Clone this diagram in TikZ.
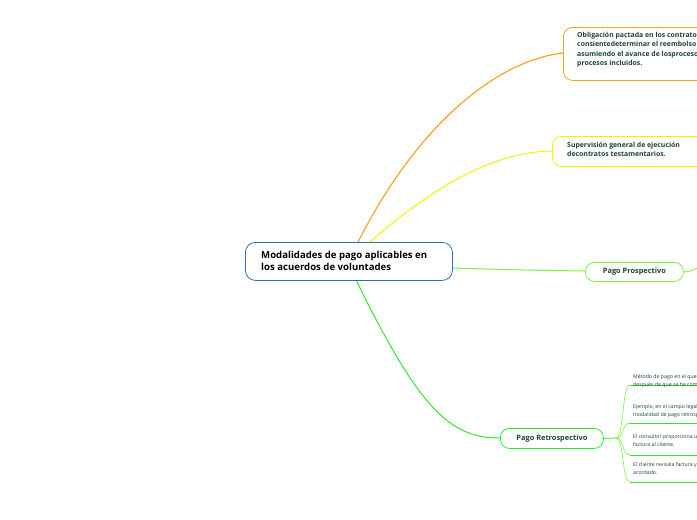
\documentclass[tikz,border=0pt]{standalone}
\usepackage{fontspec}
\setmainfont{Open Sans}
\definecolor{txt}{HTML}{1B4332}
\definecolor{org}{HTML}{F5A623}
\definecolor{yel}{HTML}{F2F200}
\definecolor{grn}{HTML}{7CF23A}
\definecolor{grn2}{HTML}{2EE62E}
\definecolor{blu}{HTML}{2A6FB5}
\tikzset{
  box/.style={draw,rounded corners=9pt,line width=0.8pt,fill=white,inner sep=0pt,anchor=north west},
  lbl/.style={anchor=north west,text=txt,font=\bfseries\fontsize{6.9}{9.3}\selectfont,align=left,inner sep=0pt},
  leaf/.style={anchor=north west,text=txt,font=\fontsize{5.2}{8}\selectfont,align=left,inner sep=0pt},
  pill/.style={draw,rounded corners=9pt,line width=0.8pt,anchor=north west,inner sep=0pt,text=txt,font=\bfseries\fontsize{7.4}{9}\selectfont},
}
\begin{document}
\begin{tikzpicture}[x=1pt,y=-1pt]
\useasboundingbox (0,0) rectangle (697,520);
\clip (0,0) rectangle (697,520);
% connectors
\coordinate (c1) at (358,242);
\coordinate (c2) at (370,242);
\coordinate (c3) at (452,268);
\coordinate (c4) at (356,280);
\draw[org,line width=1.2pt] (c1) .. controls (420,120) and (500,60) .. (563,53);
\draw[yel,line width=1pt] (c2) .. controls (430,190) and (490,152) .. (552,151);
\draw[grn,line width=1pt] (c3) .. controls (520,270) .. (585,271);
\draw[grn2,line width=1pt] (c4) .. controls (420,410) and (450,438) .. (500,438);
% central
\node[draw=blu,rounded corners=10pt,line width=0.8pt,minimum width=207pt,minimum height=38pt,anchor=north west,inner sep=0pt] (root) at (245,242) {};
\node[anchor=west,align=left,font=\bfseries\fontsize{9.6}{12}\selectfont,text=black,inner sep=0pt] at (261,261) {Modalidades de pago aplicables en\\los acuerdos de voluntades};
% orange
\node[box,draw=org,minimum width=180pt,minimum height=53pt] (ob) at (563,27) {};
\node[lbl] at (577,32) {Obligación pactada en los contratos que\\consientedeterminar el reembolso\\asumiendo el avance de losprocesos y\\procesos incluidos.};
% yellow
\node[box,draw=yel,minimum width=180pt,minimum height=30pt] (su) at (552,136) {};
\node[lbl] at (567,142) {Supervisión general de ejecución\\decontratos testamentarios.};
% pago prospectivo
\node[pill,draw=grn,minimum width=98pt,minimum height=19pt] (pp) at (585,262) {Pago Prospectivo};
\coordinate (ppe) at (697,268);
\draw[grn,line width=0.8pt] (pp.east) .. controls (692,271) .. (ppe);
% pago retrospectivo
\node[pill,draw=grn2,minimum width=103pt,minimum height=20pt] (pr) at (500,428) {Pago Retrospectivo};
\coordinate (hub) at (616,438);
\draw[grn2,line width=0.8pt] (pr.east) -- (hub);
\foreach \y/\n in {385/a,423/b,455/c,482/d}{
  \coordinate (\n) at (630,\y);
  \draw[grn,line width=0.6pt] (hub) .. controls (624,438) and (622,\y) .. (\n);
  \draw[grn2,line width=1pt] (\n) -- (697,\y);
}
\node[leaf] at (633,374) {Método de pago en el que se paga\\después de que se ha completado};
\node[leaf] at (633,404) {Ejemplo, en el campo legal, la\\modalidad de pago retrospectivo};
\node[leaf] at (633,434) {El consultor proporciona una\\factura al cliente.};
\node[leaf] at (633,462) {El cliente revisala factura y paga lo\\acordado.};
\end{tikzpicture}
\end{document}
